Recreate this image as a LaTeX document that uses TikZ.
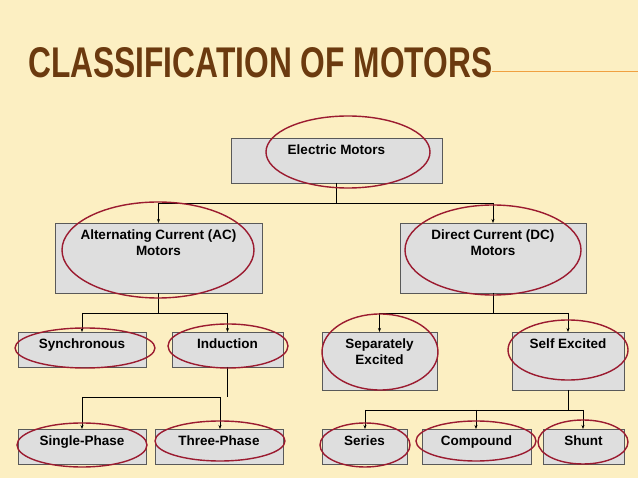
\documentclass[tikz,border=0pt]{standalone}
\usepackage{fontspec}
\setmainfont{Liberation Sans}
\usetikzlibrary{arrows.meta}
\definecolor{bgy}{HTML}{FCEFC2}
\definecolor{ttl}{HTML}{6B3A0F}
\definecolor{ring}{HTML}{9B1B30}
\definecolor{boxf}{HTML}{DEDEDE}
\definecolor{oline}{HTML}{F0A040}
\tikzset{
 bx/.style={draw=gray!70!black,fill=boxf,line width=0.6pt},
 lbl/.style={font=\bfseries\fontsize{13.5}{16}\selectfont,align=center,anchor=north},
 conn/.style={line width=0.6pt},
 arr/.style={conn,-{Stealth[length=4pt,width=3pt]}},
 ringst/.style={draw=ring,line width=1.4pt}
}
\begin{document}
\begin{tikzpicture}[x=1pt,y=-1pt]
\fill[bgy] (0,0) rectangle (638,478);
\useasboundingbox (0,0) rectangle (638,478);
\node[anchor=south west,inner sep=0,text=ttl] (title) at (28,78) {\resizebox{464pt}{30pt}{\bfseries CLASSIFICATION OF MOTORS}};
\draw[oline,line width=0.8pt] (title.south east) ++(0,-7) coordinate (tl) -- (638,71);
% boxes
\newcommand\mybox[6]{\draw[bx] (#1,#2) rectangle (#3,#4); \node[lbl] (#5) at ({(#1+#3)/2},#2+3) {#6};
 \coordinate (#5t) at ({(#1+#3)/2},#2); \coordinate (#5b) at ({(#1+#3)/2},#4);}
\mybox{231}{138}{442}{183}{em}{Electric Motors}
\mybox{55}{223}{262}{293}{ac}{Alternating Current (AC)\\Motors}
\mybox{400}{223}{586}{293}{dc}{Direct Current (DC)\\Motors}
\mybox{18}{332}{146}{367}{sy}{Synchronous}
\mybox{172}{332}{283}{367}{in}{Induction}
\mybox{322}{332}{437}{390}{se}{Separately\\Excited}
\mybox{512}{332}{624}{390}{sf}{Self Excited}
\mybox{18}{429}{146}{464}{sp}{Single-Phase}
\mybox{155}{429}{283}{464}{tp}{Three-Phase}
\mybox{322}{429}{407}{464}{sr}{Series}
\mybox{422}{429}{531}{464}{cp}{Compound}
\mybox{543}{429}{624}{464}{sh}{Shunt}
% connectors
\draw[conn] (emb) -- ++(0,20) coordinate (j1);
\draw[conn] (act|-j1) -- (dct|-j1);
\draw[arr] (act|-j1) -- (act); \draw[arr] (dct|-j1) -- (dct);
\draw[conn] (acb) -- ++(0,20) coordinate (j2);
\draw[conn] (syt|-j2) -- (int|-j2);
\draw[arr] (syt|-j2) -- (syt); \draw[arr] (int|-j2) -- (int);
\draw[conn] (dcb) -- ++(0,20) coordinate (j3);
\draw[conn] (set|-j3) -- (sft|-j3);
\draw[arr] (set|-j3) -- (set); \draw[arr] (sft|-j3) -- (sft);
\draw[conn] (inb) -- ++(0,30) coordinate (j4);
\coordinate (spx) at (82,429); \coordinate (tpx) at (220,429);
\draw[conn] (spx|-j4) -- (tpx|-j4);
\draw[arr] (spx|-j4) -- (spx); \draw[arr] (tpx|-j4) -- (tpx);
\draw[conn] (sfb) -- ++(0,20) coordinate (j5);
\coordinate (srx) at (365,429); \coordinate (cpx) at (476,429); \coordinate (shx) at (583,429);
\draw[conn] (srx|-j5) -- (shx|-j5);
\draw[arr] (srx|-j5) -- (srx); \draw[arr] (cpx|-j5) -- (cpx); \draw[arr] (shx|-j5) -- (shx);
% rings
\draw[ringst] (348,152) ellipse [x radius=82,y radius=36];
\draw[ringst] (158,250) ellipse [x radius=96,y radius=48];
\draw[ringst] (493,250) ellipse [x radius=88,y radius=45];
\draw[ringst] (85,348) ellipse [x radius=70,y radius=20];
\draw[ringst] (228,346) ellipse [x radius=60,y radius=22];
\draw[ringst] (380,352) ellipse [x radius=58,y radius=38];
\draw[ringst] (568,350) ellipse [x radius=60,y radius=30];
\draw[ringst] (82,445) ellipse [x radius=65,y radius=22];
\draw[ringst] (220,441) ellipse [x radius=65,y radius=20];
\draw[ringst] (365,445) ellipse [x radius=45,y radius=22];
\draw[ringst] (476,441) ellipse [x radius=60,y radius=20];
\draw[ringst] (583,442) ellipse [x radius=45,y radius=22];
\end{tikzpicture}
\end{document}
